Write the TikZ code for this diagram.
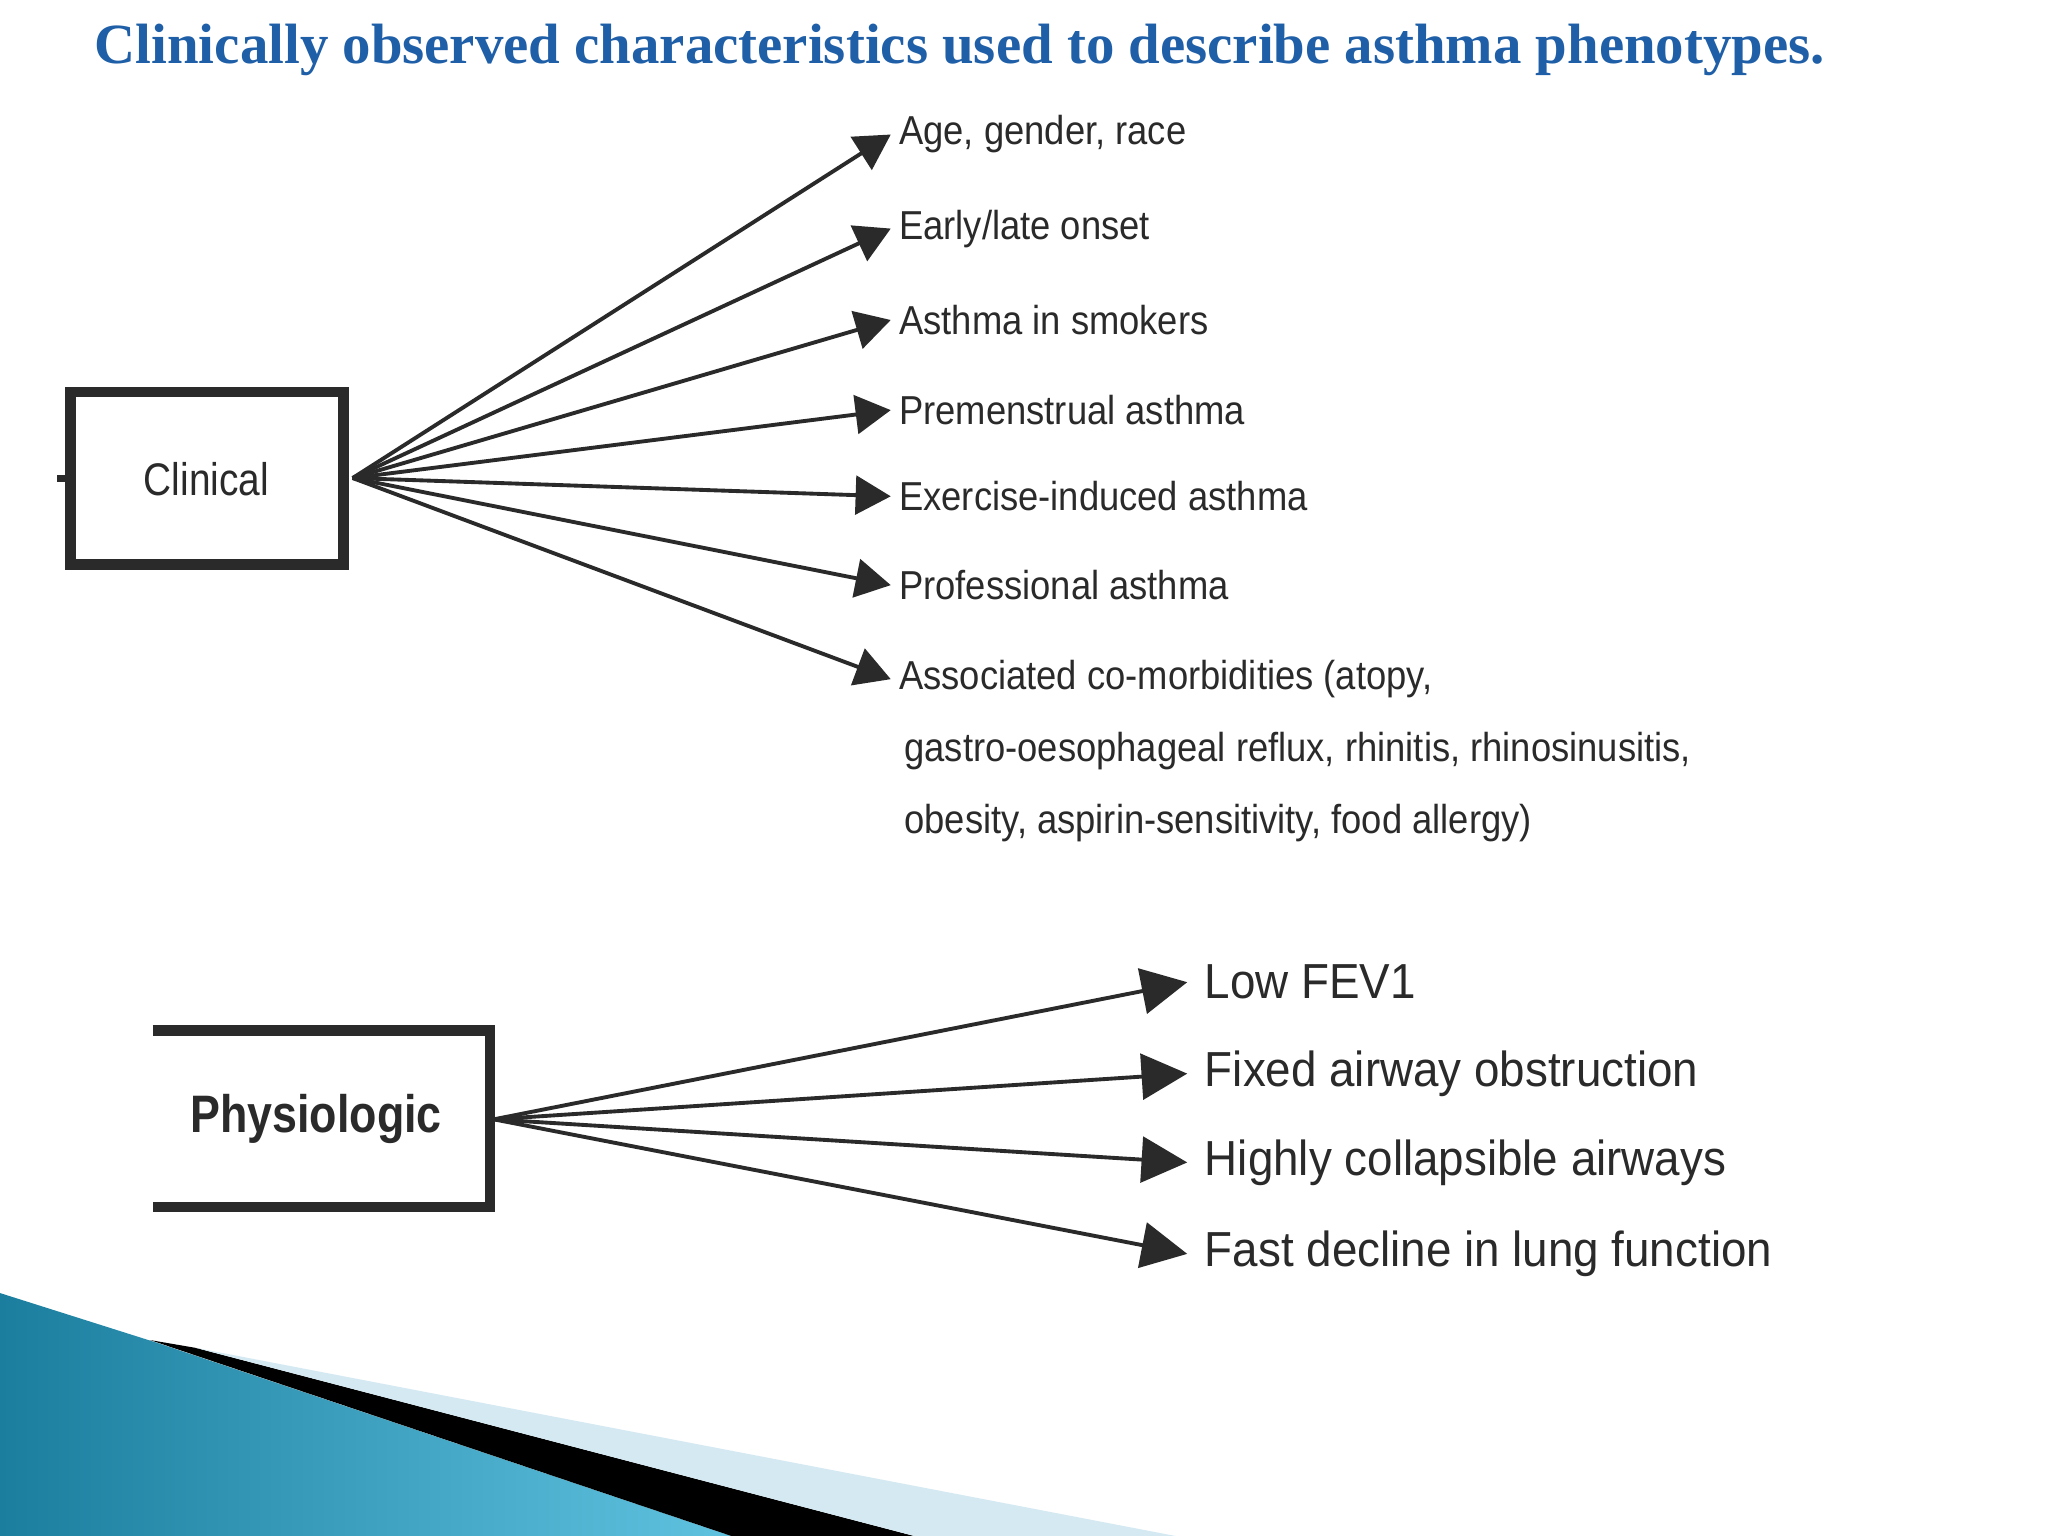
\documentclass[tikz,border=0pt]{standalone}
\usepackage{fontspec}
\setmainfont{Liberation Sans}
\newfontfamily\titlefont{Liberation Serif}
\usetikzlibrary{arrows.meta}
\definecolor{titleblue}{HTML}{1F5FA8}
\definecolor{txt}{HTML}{2A2A2A}
\definecolor{decoA}{HTML}{1C7E9E}
\definecolor{decoB}{HTML}{5FC3E0}
\definecolor{decoC}{HTML}{D4E9F1}
\tikzset{
  box/.style={draw=txt,line width=3pt},
  arr/.style={draw=txt,line width=1.1pt,-{Triangle[length=10pt,width=11pt]}},
  parr/.style={draw=txt,line width=1.1pt,-{Triangle[length=13pt,width=13pt]}},
  lab/.style={anchor=west,text=txt,font=\fontsize{11.5}{13}\selectfont,xscale=0.9,inner sep=0pt},
  plab/.style={anchor=west,text=txt,font=\fontsize{14}{16}\selectfont,xscale=0.93,inner sep=0pt},
}
\begin{document}
\begin{tikzpicture}[x=0.013061cm,y=-0.013061cm]
\useasboundingbox (0,0) rectangle (1568,1176);
\fill[white] (0,0) rectangle (1568,1176);
% title
\node[anchor=west,inner sep=0pt,text=titleblue] (title) at (72,38)
  {\resizebox{17.3cm}{!}{\titlefont\bfseries Clinically observed characteristics used to describe asthma phenotypes.}};
% decoration
\shade[left color=decoA,right color=decoB] (0,990) -- (120,1028) -- (560,1176) -- (0,1176) -- cycle;
\fill[black] (115,1026) -- (150,1032) -- (700,1176) -- (560,1176) -- cycle;
\fill[decoC] (150,1032) -- (900,1176) -- (700,1176) -- cycle;
% clinical
\draw[box] (54,300) rectangle (263,432);
\node[text=txt,font=\fontsize{13}{15}\selectfont,xscale=0.85] (clin) at (158,367) {Clinical};
\draw[txt,line width=2pt] (44,366) -- (54,366);
\coordinate (cs) at (270,366);
\foreach \y/\t [count=\i] in {103/{Age, gender, race},175/{Early/late onset},245/{Asthma in smokers},314/{Premenstrual asthma},380/{Exercise-induced asthma},448/{Professional asthma},520/{Associated co-morbidities (atopy,}}{
  \coordinate (e\i) at (682,\y);
  \draw[arr] (cs) -- (e\i);
  \node[lab] (l\i) at (688,\y) {\t};
}
\node[lab] (l8) at (692,575) {gastro-oesophageal reflux, rhinitis, rhinosinusitis,};
\node[lab] (l9) at (692,630) {obesity, aspirin-sensitivity, food allergy)};
% physiologic
\draw[box] (117,789) -- (375,789) -- (375,924) -- (117,924);
\node[text=txt,font=\fontsize{15}{17}\selectfont\bfseries,xscale=0.85] (phys) at (242,857) {Physiologic};
\coordinate (ps) at (378,857);
\foreach \y/\t [count=\i] in {752/{Low FEV1},822/{Fixed airway obstruction},890/{Highly collapsible airways},960/{Fast decline in lung function}}{
  \coordinate (f\i) at (909,\y);
  \draw[parr] (ps) -- (f\i);
  \node[plab] (p\i) at (922,\y) {\t};
}
\end{tikzpicture}
\end{document}
